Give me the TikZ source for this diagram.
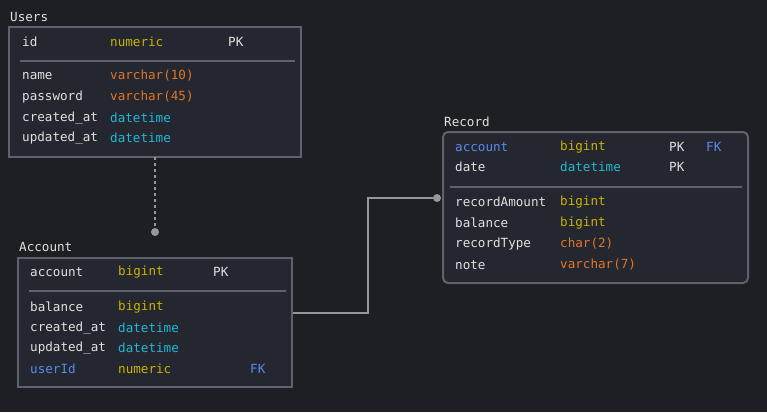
\documentclass[tikz,border=0pt]{standalone}
\usepackage{fontspec}
\setmonofont{DejaVu Sans Mono}
\definecolor{bg}{RGB}{30,31,36}
\definecolor{boxf}{RGB}{36,39,47}
\definecolor{boxd}{RGB}{95,98,108}
\definecolor{tw}{RGB}{225,225,225}
\definecolor{ty}{RGB}{201,180,0}
\definecolor{to}{RGB}{226,118,40}
\definecolor{tc}{RGB}{34,184,216}
\definecolor{tb}{RGB}{88,138,236}
\definecolor{ln}{RGB}{150,150,155}
\tikzset{
 tbl/.style={draw=boxd,fill=boxf,line width=2pt},
 sep/.style={draw=boxd,line width=1.2pt},
 t/.style={anchor=west,inner sep=0pt,font=\ttfamily\fontsize{12.6}{14}\selectfont,text=tw},
 ttl/.style={t},
 dotc/.style={circle,fill=ln,inner sep=0pt,minimum size=8pt}
}
\begin{document}
\begin{tikzpicture}[x=1pt,y=-1pt]
\fill[bg] (0,0) rectangle (767,412);
\useasboundingbox (0,0) rectangle (767,412);
% Users
\node[ttl] (ut) at (10,17) {Users};
\draw[tbl] (9,27) rectangle (301,157);
\coordinate (ub) at (155,157);
\draw[sep] (20,61) -- (295,61);
\node[t] (u1) at (22,42) {id};\node[t,text=ty] (u1t) at (110,42) {numeric};\node[t] (u1k) at (228,42) {PK};
\node[t] (u2) at (22,76) {name};\node[t,text=to] (u2t) at (110,76) {varchar(10)};
\node[t] (u3) at (22,97) {password};\node[t,text=to] (u3t) at (110,97) {varchar(45)};
\node[t] (u4) at (22,118) {created\_at};\node[t,text=tc] (u4t) at (110,118) {datetime};
\node[t] (u5) at (22,138) {updated\_at};\node[t,text=tc] (u5t) at (110,138) {datetime};
% Account
\node[ttl] (at) at (19,247) {Account};
\draw[tbl] (18,258) rectangle (292,387);
\draw[sep] (29,291) -- (286,291);
\node[t] (a1) at (30,272) {account};\node[t,text=ty] (a1t) at (118,272) {bigint};\node[t] (a1k) at (213,272) {PK};
\node[t] (a2) at (30,307) {balance};\node[t,text=ty] (a2t) at (118,307) {bigint};
\node[t] (a3) at (30,328) {created\_at};\node[t,text=tc] (a3t) at (118,328) {datetime};
\node[t] (a4) at (30,348) {updated\_at};\node[t,text=tc] (a4t) at (118,348) {datetime};
\node[t,text=tb] (a5) at (30,369) {userId};\node[t,text=ty] (a5t) at (118,369) {numeric};\node[t,text=tb] (a5k) at (250,369) {FK};
\coordinate (ar) at (293,313);
% Record
\node[ttl] (rt) at (444,122) {Record};
\draw[tbl,rounded corners=5pt] (443,132) rectangle (748,283);
\draw[sep] (450,187) -- (742,187);
\node[t,text=tb] (r1) at (455,147) {account};\node[t,text=ty] (r1t) at (560,147) {bigint};\node[t] (r1k) at (669,147) {PK};\node[t,text=tb] (r1f) at (706,147) {FK};
\node[t] (r2) at (455,167) {date};\node[t,text=tc] (r2t) at (560,167) {datetime};\node[t] (r2k) at (669,167) {PK};
\node[t] (r3) at (455,202) {recordAmount};\node[t,text=ty] (r3t) at (560,202) {bigint};
\node[t] (r4) at (455,223) {balance};\node[t,text=ty] (r4t) at (560,223) {bigint};
\node[t] (r5) at (455,244) {recordType};\node[t,text=to] (r5t) at (560,244) {char(2)};
\node[t] (r6) at (455,265) {note};\node[t,text=to] (r6t) at (560,265) {varchar(7)};
% connectors
\node[dotc] (d1) at (155,232) {};
\draw[ln,line width=1.5pt,dashed,dash pattern=on 3pt off 3pt] (ub) -- (d1);
\node[dotc] (d2) at (437,198) {};
\draw[ln,line width=1.3pt] (ar) -- (368,313) -- (368,198) -- (d2);
\end{tikzpicture}
\end{document}
